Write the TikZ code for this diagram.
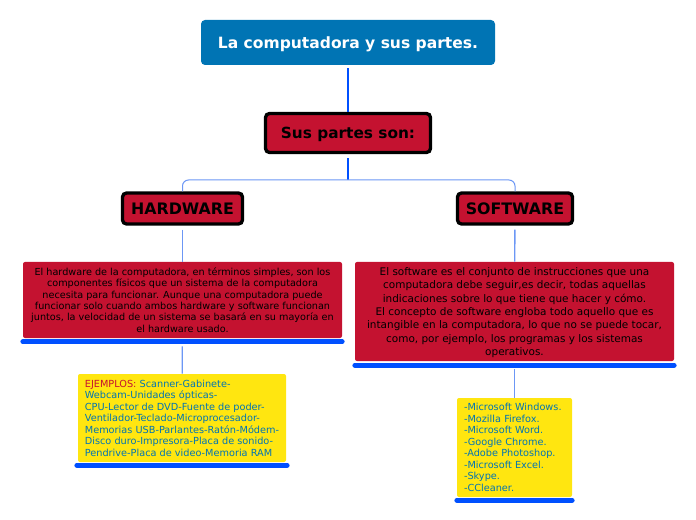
\documentclass[tikz,border=0pt]{standalone}
\usepackage{fontspec}
\setmainfont{DejaVu Sans}
\definecolor{partred}{HTML}{C41230}
\definecolor{titleblue}{HTML}{0074B4}
\definecolor{noteyellow}{HTML}{FFE610}
\definecolor{linkblue}{HTML}{0050FF}
\definecolor{branchblue}{HTML}{6C97F5}
\tikzset{
    titlebox/.style={fill=titleblue,text=white,rounded corners=3pt,text depth=0pt,font=\bfseries\fontsize{11.65}{13}\selectfont},
    partbox/.style={fill=partred,draw=black,line width=2.5pt,rounded corners=3pt,text=black},
    textbox/.style={fill=partred,rounded corners=1.5pt,align=center,text=black},
    listbox/.style={fill=noteyellow,rounded corners=1.5pt,align=left,text=titleblue,font=\fontsize{7.3}{8.6}\selectfont},
    underbar/.style={draw=linkblue,line width=3.5pt,line cap=round},
    link/.style={draw=linkblue,line width=1pt,shorten <=2.25pt},
    branch/.style={draw=branchblue,line width=0.75pt,rounded corners=4.5pt}
}
\begin{document}
\begin{tikzpicture}[x=0.75pt,y=-0.75pt]
    \useasboundingbox (0,0) rectangle (696,520);

    % Boxes
    \node[titlebox,minimum width=220.5pt,minimum height=33.75pt] (title) at (348,42.5) {La computadora y sus partes.};
    \node[partbox,minimum width=123.75pt,minimum height=29.25pt,text depth=0pt,font=\bfseries\fontsize{11.5}{13}\selectfont] (partes) at (348,133) {Sus partes son:};
    \node[partbox,minimum width=90pt,minimum height=23.25pt,font=\bfseries\fontsize{11.85}{13}\selectfont] (hardware) at (182.5,208.5) {HARDWARE};
    \node[partbox,minimum width=86.25pt,minimum height=23.25pt,font=\bfseries\fontsize{11.85}{13}\selectfont] (software) at (515,208.5) {SOFTWARE};

    % Descriptions
    \node[textbox,minimum width=239.25pt,minimum height=57pt,font=\fontsize{7.25}{8.6}\selectfont] (hwtext) at (182.5,300) {El hardware de la computadora, en términos simples, son los\\
        componentes físicos que un sistema de la computadora\\
        necesita para funcionar. Aunque una computadora puede\\
        funcionar solo cuando ambos hardware y software funcionan\\
        juntos, la velocidad de un sistema se basará en su mayoría en\\
        el hardware usado.};
    \node[textbox,minimum width=239.25pt,minimum height=74.25pt,text depth=0pt,font=\fontsize{7.85}{10}\selectfont] (swtext) at (514.5,311.5) {El software es el conjunto de instrucciones que una\\
        computadora debe seguir,es decir, todas aquellas\\
        indicaciones sobre lo que tiene que hacer y cómo.\\
        El concepto de software engloba todo aquello que es\\
        intangible en la computadora, lo que no se puede tocar,\\
        como, por ejemplo, los programas y los sistemas\\
        operativos.};

    % Examples
    \node[listbox,minimum width=156pt,minimum height=66pt] (hwlist) at (182,418) {\textcolor{partred}{EJEMPLOS:} Scanner-Gabinete-\\
        Webcam-Unidades ópticas-\\
        CPU-Lector de DVD-Fuente de poder-\\
        Ventilador-Teclado-Microprocesador-\\
        Memorias USB-Parlantes-Ratón-Módem-\\
        Disco duro-Impresora-Placa de sonido-\\
        Pendrive-Placa de video-Memoria RAM};
    \node[listbox,text width=75.75pt,inner xsep=5.25pt,minimum height=74.25pt] (swlist) at (514.5,447.5) {-Microsoft Windows.\\
        -Mozilla Firefox.\\
        -Microsoft Word.\\
        -Google Chrome.\\
        -Adobe Photoshop.\\
        -Microsoft Excel.\\
        -Skype.\\
        -CCleaner.};

    % Underlines
    \draw[underbar] ([yshift=-2.6pt]hwtext.south west) -- ([yshift=-2.6pt]hwtext.south east);
    \draw[underbar] ([yshift=-3pt]swtext.south west) -- ([yshift=-3pt]swtext.south east);
    \draw[underbar] ([xshift=-0.75pt,yshift=-2.25pt]hwlist.south west) -- ([xshift=0.75pt,yshift=-2.25pt]hwlist.south east);
    \draw[underbar] ([yshift=-2.25pt]swlist.south west) -- ([yshift=-2.25pt]swlist.south east);

    % Links
    \coordinate (split) at (348,180);
    \draw[link] (title) -- (partes);
    \draw[link,shorten <=3pt] (partes) -- (split);
    \draw[branch] (hardware.north) |- (split) -| (software.north);
    \draw[link,draw=branchblue,shorten <=3pt] (hardware) -- (hwtext);
    \draw[link,draw=branchblue,shorten <=3pt] (software) -- (swtext);
    \draw[link,draw=branchblue,shorten <=6pt] (hwtext) -- (hwlist);
    \draw[link,draw=branchblue,shorten <=6pt] (swtext) -- (swlist);
\end{tikzpicture}
\end{document}
